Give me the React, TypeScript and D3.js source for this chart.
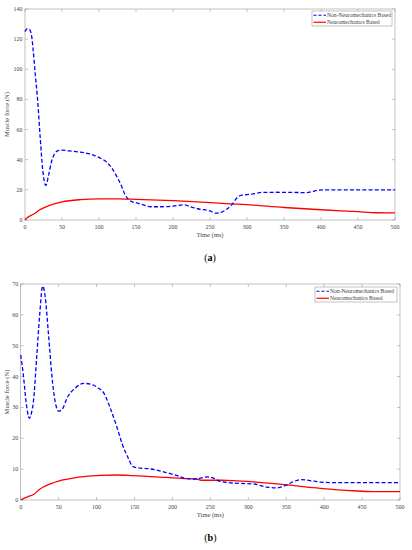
import React from "react";
import * as d3 from "d3";

// ---------- data ----------
const timeTicks = [0, 50, 100, 150, 200, 250, 300, 350, 400, 450, 500];
const yTicksA = [0, 20, 40, 60, 80, 100, 120, 140];
const yTicksB = [0, 10, 20, 30, 40, 50, 60, 70];
const legendLabels = ["Non-Neuromechanics Based", "Neuromechanics Based"];

// (a) Non-neuromechanics
const tA_non = [0, 3, 6, 9, 11, 14, 17, 20.5, 24, 28, 32, 36, 40, 45, 50, 60, 75, 90, 100, 110, 118, 125, 130, 135, 140, 145, 150, 160, 170, 185, 200, 215, 225, 235, 250, 258, 265, 272, 280, 287, 293, 300, 310, 320, 340, 360, 380, 388, 395, 410, 450, 500];
const fA_non = [125, 127, 126.5, 122, 113, 96, 80, 55, 33, 23, 30, 39, 44, 46, 46.3, 45.8, 45, 43.5, 41.5, 38.5, 34, 28, 23, 17, 13.5, 12, 11.5, 10, 8.8, 8.8, 9.2, 10, 8.5, 7.3, 6, 4.5, 5, 7, 10.5, 15, 16.5, 16.8, 17.5, 18.3, 18.4, 18.3, 18.2, 18.8, 19.7, 20, 20, 20];
// (a) Neuromechanics
const tA_neu = [0, 3, 6, 10, 15, 20, 25, 35, 50, 75, 100, 125, 150, 200, 250, 300, 350, 400, 450, 475, 500];
const fA_neu = [0, 1.5, 2.5, 3.5, 5, 6.8, 8, 10, 12, 13.5, 14, 14, 13.7, 12.8, 11.5, 10.2, 8.3, 6.8, 5.5, 4.8, 4.7];

// (b) Non-neuromechanics
const tB_non = [0, 3.5, 7, 11.5, 14, 16.8, 21, 25, 29, 32, 36.7, 41, 45.5, 50, 55, 61, 72, 83, 95, 101, 110, 118.6, 127, 134, 141, 148, 155, 170, 192, 205, 219, 230, 236, 245, 255, 263, 280, 307, 324, 337, 351, 360, 370, 381, 395, 420, 500];
const fB_non = [47, 40.5, 32, 26.5, 28, 32, 46, 60, 69.3, 66.4, 53.5, 40.5, 31.8, 28.8, 29.5, 33, 36.3, 37.8, 37.3, 36.5, 34.5, 29.4, 23.5, 18, 14, 10.8, 10.4, 10.1, 8.9, 8, 6.9, 6.8, 7, 7.5, 7, 6, 5.5, 5.2, 4.2, 3.9, 4.9, 6, 6.6, 6.3, 5.8, 5.6, 5.6];
// (b) Neuromechanics
const tB_neu = [0, 5, 10, 17, 25, 39, 52, 74, 105, 127, 148, 192, 219, 232, 238, 265, 280, 307, 351, 395, 438, 465, 500];
const fB_neu = [0, 0.6, 1.1, 1.8, 3.5, 5.2, 6.3, 7.3, 8, 8.1, 7.9, 7.3, 6.9, 6.8, 6.4, 6.4, 6.3, 5.9, 4.9, 3.8, 3, 2.7, 2.7];

// ---------- drawing ----------
const AX = "#9a9a9a";
const TXT = "#444";
const FONT = "'Liberation Serif', 'DejaVu Serif', serif";

type PanelProps = {
  left: number; right: number; top: number; bottom: number;
  yMax: number; yTicks: number[];
  tNon: number[]; fNon: number[]; tNeu: number[]; fNeu: number[];
  legend: { x0: number; x1: number; y0: number; y1: number };
  label: string; labelY: number; labelX: number;
};

function Panel(p: PanelProps) {
  const x = d3.scaleLinear().domain([0, 500]).range([p.left, p.right]);
  const y = d3.scaleLinear().domain([0, p.yMax]).range([p.bottom, p.top]);
  const line = d3.line<[number, number]>().x(d => x(d[0])).y(d => y(d[1])).curve(d3.curveMonotoneX);
  const non = line(p.tNon.map((t, i) => [t, p.fNon[i]] as [number, number])) || "";
  const neu = line(p.tNeu.map((t, i) => [t, p.fNeu[i]] as [number, number])) || "";
  const tl = 3;
  const { x0, x1, y0, y1 } = p.legend;
  const rowH = (y1 - y0) / 2;
  return (
    <g>
      <rect x={p.left} y={p.top} width={p.right - p.left} height={p.bottom - p.top} fill="white" stroke={AX} strokeWidth={0.6} />
      {timeTicks.map(t => (
        <g key={"xt" + t}>
          <line x1={x(t)} x2={x(t)} y1={p.bottom} y2={p.bottom - tl} stroke={AX} strokeWidth={0.6} />
          <line x1={x(t)} x2={x(t)} y1={p.top} y2={p.top + tl} stroke={AX} strokeWidth={0.6} />
          <text x={x(t)} y={p.bottom + 8.5} fontSize={6} textAnchor="middle" fill={TXT} fontFamily={FONT}>{t}</text>
        </g>
      ))}
      {p.yTicks.map(v => (
        <g key={"yt" + v}>
          <line x1={p.left} x2={p.left + tl} y1={y(v)} y2={y(v)} stroke={AX} strokeWidth={0.6} />
          <line x1={p.right} x2={p.right - tl} y1={y(v)} y2={y(v)} stroke={AX} strokeWidth={0.6} />
          <text x={p.left - 2.5} y={y(v) + 2} fontSize={6} textAnchor="end" fill={TXT} fontFamily={FONT}>{v}</text>
        </g>
      ))}
      <path d={neu} fill="none" stroke="#ff0000" strokeWidth={1.3} />
      <path d={non} fill="none" stroke="#0000ff" strokeWidth={1.3} strokeDasharray="4,2.2" />
      <text x={(p.left + p.right) / 2} y={p.bottom + 16.5} fontSize={6.5} textAnchor="middle" fill={TXT} fontFamily={FONT}>Time (ms)</text>
      <text transform={`translate(${p.labelX},${(p.top + p.bottom) / 2}) rotate(-90)`} fontSize={6.5} textAnchor="middle" fill={TXT} fontFamily={FONT}>Muscle force (N)</text>
      <rect x={x0} y={y0} width={x1 - x0} height={y1 - y0} fill="white" stroke={AX} strokeWidth={0.6} />
      <line x1={x0 + 1.5} x2={x0 + 14} y1={y0 + rowH * 0.5 + 0.5} y2={y0 + rowH * 0.5 + 0.5} stroke="#0000ff" strokeWidth={1.2} strokeDasharray="3,2" />
      <line x1={x0 + 1.5} x2={x0 + 14} y1={y0 + rowH * 1.5} y2={y0 + rowH * 1.5} stroke="#ff0000" strokeWidth={1.2} />
      <text x={x0 + 15} y={y0 + rowH * 0.5 + 2.3} fontSize={5.6} fill={TXT} fontFamily={FONT}>{legendLabels[0]}</text>
      <text x={x0 + 15} y={y0 + rowH * 1.5 + 1.9} fontSize={5.6} fill={TXT} fontFamily={FONT}>{legendLabels[1]}</text>
      <text x={(p.left + p.right) / 2} y={p.labelY} fontSize={10} textAnchor="middle" fill="#000" fontFamily={FONT}>
        (<tspan fontWeight="bold">{p.label}</tspan>)
      </text>
    </g>
  );
}

export default function App() {
  return (
    <svg width={412} height={550} style={{ position: "absolute", left: 0, top: 0, background: "white" }}>
      <rect x={0} y={0} width={412} height={550} fill="white" />
      <Panel left={25} right={395} top={9} bottom={220} yMax={140} yTicks={yTicksA}
        tNon={tA_non} fNon={fA_non} tNeu={tA_neu} fNeu={fA_neu}
        legend={{ x0: 312, x1: 392, y0: 11, y1: 26 }} label="a" labelY={261} labelX={9} />
      <Panel left={20.7} right={400} top={284} bottom={500} yMax={70} yTicks={yTicksB}
        tNon={tB_non} fNon={fB_non} tNeu={tB_neu} fNeu={fB_neu}
        legend={{ x0: 315, x1: 397, y0: 287, y1: 302 }} label="b" labelY={541} labelX={9} />
    </svg>
  );
}
